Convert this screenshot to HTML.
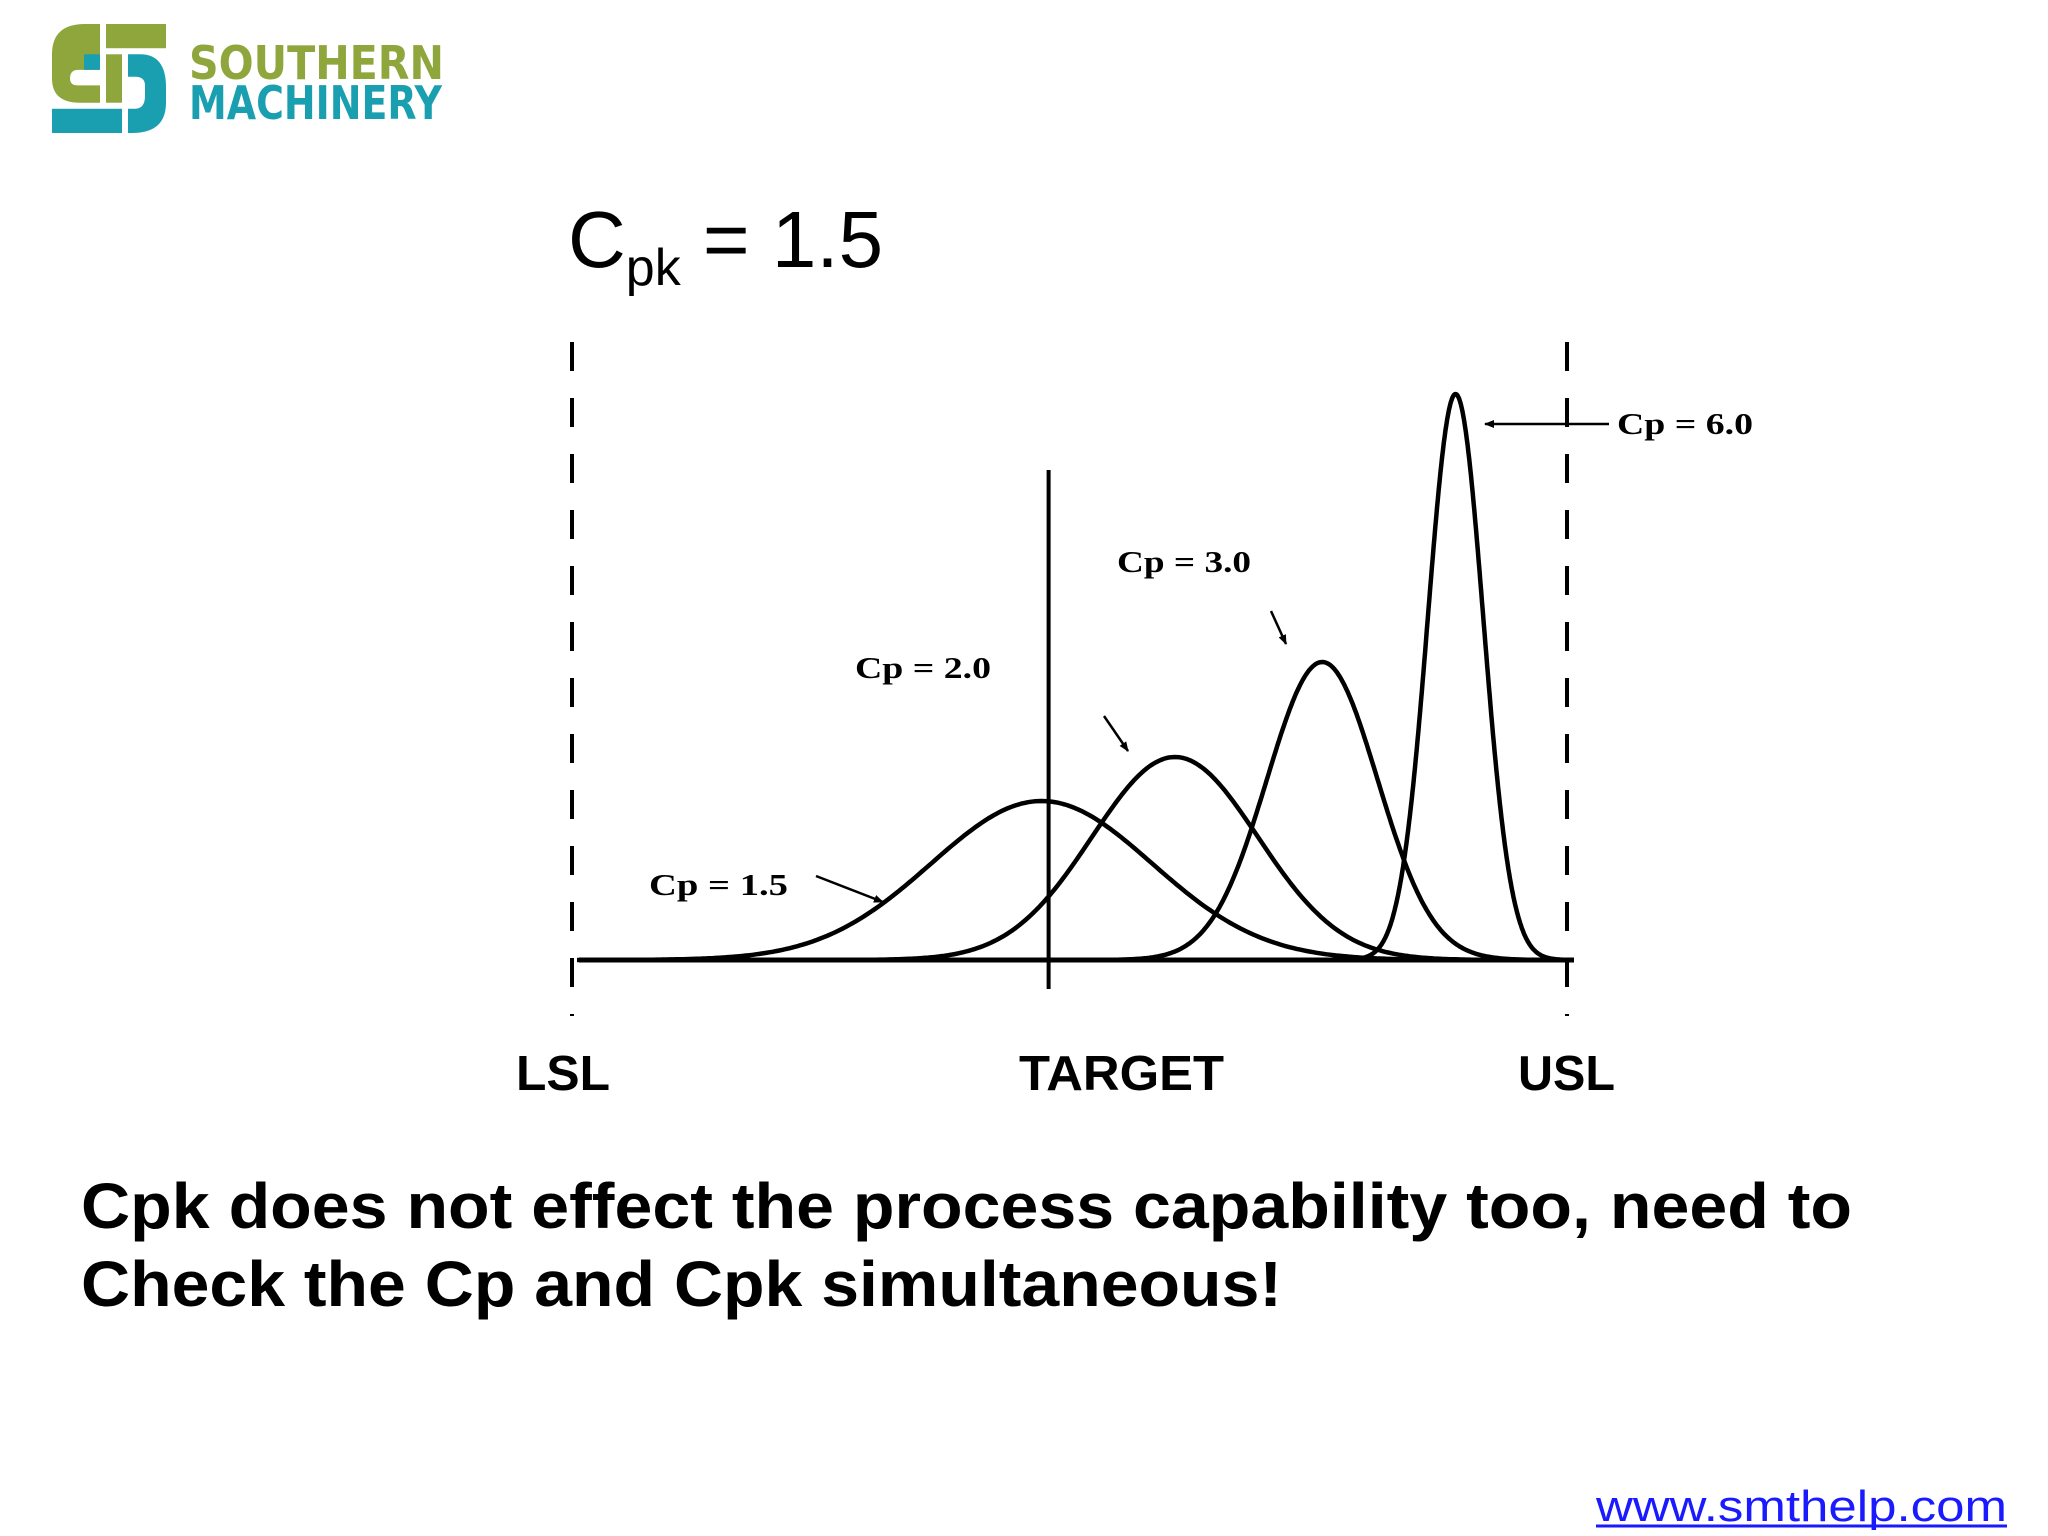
<!DOCTYPE html>
<html><head><meta charset="utf-8">
<style>
html,body{margin:0;padding:0;background:#fff;}
svg{display:block;}
</style></head>
<body>
<svg width="2048" height="1536" viewBox="0 0 2048 1536" xmlns="http://www.w3.org/2000/svg">
<g>
 <g transform="translate(0,24) scale(1,0.865) translate(0,-27)">
  <path d="M100,27 L100,80 L78,80 Q70,80 70,90 Q70,98 78,98 L100,98 L100,118 L80,118 Q52,118 52,90 L52,62 Q52,27 85,27 Z" fill="#8ea63b"/>
  <rect x="106" y="27" width="60" height="28" fill="#8ea63b"/>
  <rect x="106" y="62" width="16" height="56" fill="#8ea63b"/>
  <rect x="84" y="62" width="16" height="18" fill="#1a9fb0"/>
  <path d="M128,62 L140,62 Q166,62 166,100 L166,118 Q166,153 132,153 L128,153 L128,125 L135,125 Q145,125 145,110 L145,98 Q145,88 135,88 L128,88 Z" fill="#1a9fb0"/>
  <rect x="52" y="125" width="70" height="28" fill="#1a9fb0"/>
 </g>
  <text x="189" y="79" font-family="DejaVu Sans, Liberation Sans, sans-serif" font-weight="bold" font-size="46" fill="#8ea63b" textLength="255" lengthAdjust="spacingAndGlyphs">SOUTHERN</text>
  <text x="189" y="119" font-family="DejaVu Sans, Liberation Sans, sans-serif" font-weight="bold" font-size="46" fill="#1a9fb0" textLength="253" lengthAdjust="spacingAndGlyphs">MACHINERY</text>
</g>
<text x="568" y="267" font-family="Liberation Sans, sans-serif" font-size="80" fill="#000">C<tspan font-size="52" dy="18">pk</tspan><tspan dy="-18"> = 1.5</tspan></text>
<g id="chart"></g>
<g font-family="Liberation Sans, sans-serif" font-weight="bold" font-size="49" fill="#000">
  <text x="516" y="1090" textLength="94" lengthAdjust="spacingAndGlyphs">LSL</text>
  <text x="1019" y="1090" textLength="205" lengthAdjust="spacingAndGlyphs">TARGET</text>
  <text x="1518" y="1090" textLength="97" lengthAdjust="spacingAndGlyphs">USL</text>
</g>
<g font-family="Liberation Serif, serif" font-weight="bold" font-size="31" fill="#000">
  <text x="1617" y="434" textLength="136" lengthAdjust="spacingAndGlyphs">Cp = 6.0</text>
  <text x="1117" y="572" textLength="134" lengthAdjust="spacingAndGlyphs">Cp = 3.0</text>
  <text x="855" y="678" textLength="136" lengthAdjust="spacingAndGlyphs">Cp = 2.0</text>
  <text x="649" y="895" textLength="139" lengthAdjust="spacingAndGlyphs">Cp = 1.5</text>
</g>
<defs><marker id="ah" markerWidth="10" markerHeight="8" refX="9" refY="4" orient="auto" markerUnits="userSpaceOnUse"><path d="M0,0 L10,4 L0,8 Z" fill="#000"/></marker></defs>
<g stroke="#000" stroke-width="2.5" fill="none" marker-end="url(#ah)">
  <line x1="1609" y1="424" x2="1485" y2="424"/>
  <line x1="1271" y1="611" x2="1286" y2="644"/>
  <line x1="1104" y1="716" x2="1128" y2="751"/>
  <line x1="816" y1="876" x2="883" y2="902"/>
</g>
<g font-family="Liberation Sans, sans-serif" font-weight="bold" font-size="64" fill="#000">
  <text x="81" y="1228" textLength="1771" lengthAdjust="spacingAndGlyphs">Cpk does not effect the process capability too, need to</text>
  <text x="81" y="1306" textLength="1201" lengthAdjust="spacingAndGlyphs">Check the Cp and Cpk simultaneous!</text>
</g>
<text x="1596" y="1521" font-family="Liberation Sans, sans-serif" font-size="44" fill="#1a1aff" textLength="411" lengthAdjust="spacingAndGlyphs">www.smthelp.com</text>
<line x1="1596" y1="1526" x2="2007" y2="1526" stroke="#1a1aff" stroke-width="3"/>
</svg>
<script>
const cpValues=[1.5,2.0,3.0,6.0];
const means=[0.472,0.606,0.754,0.888];
const peakHeights=[159,203,298,566];
const specLimits=[0,1];
const targetValue=0.479;

const NS="http://www.w3.org/2000/svg";
const g=document.getElementById('chart');
const X0=572,X1=1567,Y0=960;
function xs(v){return X0+(v-specLimits[0])/(specLimits[1]-specLimits[0])*(X1-X0);}
function ys(v){return Y0-v;}
function mk(tag,attrs){const e=document.createElementNS(NS,tag);for(const k in attrs)e.setAttribute(k,attrs[k]);g.appendChild(e);return e;}

let l=mk('line',{x1:xs(specLimits[0]),y1:342,x2:xs(specLimits[0]),y2:1016,stroke:'#000','stroke-width':4,'stroke-dasharray':'29 27'});


l=mk('line',{x1:xs(specLimits[1]),y1:342,x2:xs(specLimits[1]),y2:1016,stroke:'#000','stroke-width':4,'stroke-dasharray':'29 27'});


l=mk('line',{x1:xs(targetValue),y1:470,x2:xs(targetValue),y2:989,stroke:'#000','stroke-width':4});


l=mk('line',{x1:579,y1:Y0,x2:1574,y2:Y0,stroke:'#000','stroke-width':5});



cpValues.forEach((cp,i)=>{
  const sigma=1/(6*cp);
  let d='';
  const lo=Math.max(0.005,means[i]-5*sigma),hi=Math.min(1.005,means[i]+5*sigma);
  for(let k=0;k<=300;k++){
    const v=lo+(hi-lo)*k/300;
    const z=(v-means[i])/sigma;
    const h=peakHeights[i]*Math.exp(-0.5*z*z);
    d+=(k?'L':'M')+xs(v).toFixed(1)+','+ys(h).toFixed(1);
  }
  const p=mk('path',{d:d,fill:'none',stroke:'#000','stroke-width':4.5,'stroke-linejoin':'round'});
  
  
});
</script>
</body></html>
